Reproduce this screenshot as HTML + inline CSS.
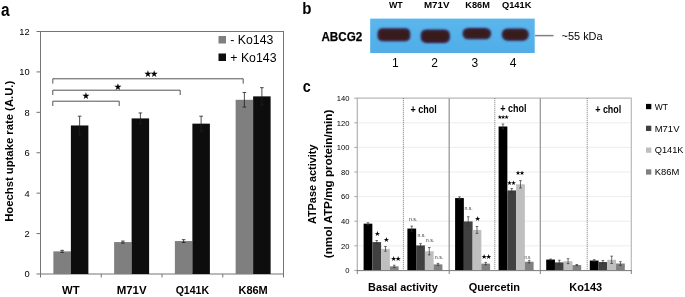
<!DOCTYPE html>
<html><head><meta charset="utf-8"><title>Figure</title>
<style>
html,body{margin:0;padding:0;background:#fff;}
svg{display:block;font-family:"Liberation Sans", sans-serif;}
</style></head>
<body>
<svg width="685" height="297" viewBox="0 0 685 297">
<rect x="0" y="0" width="685" height="297" fill="#ffffff"/>
<rect x="40.5" y="31.5" width="243.0" height="242.5" fill="none" stroke="#747474" stroke-width="1"/>
<line x1="36.5" y1="274.0" x2="40.5" y2="274.0" stroke="#747474" stroke-width="1"/>
<text x="29.7" y="277.4" font-size="9.9" text-anchor="end" fill="#000" textLength="5.2" lengthAdjust="spacingAndGlyphs">0</text>
<line x1="36.5" y1="233.58333333333334" x2="40.5" y2="233.58333333333334" stroke="#747474" stroke-width="1"/>
<text x="29.7" y="236.98333333333335" font-size="9.9" text-anchor="end" fill="#000" textLength="5.2" lengthAdjust="spacingAndGlyphs">2</text>
<line x1="36.5" y1="193.16666666666669" x2="40.5" y2="193.16666666666669" stroke="#747474" stroke-width="1"/>
<text x="29.7" y="196.5666666666667" font-size="9.9" text-anchor="end" fill="#000" textLength="5.2" lengthAdjust="spacingAndGlyphs">4</text>
<line x1="36.5" y1="152.75" x2="40.5" y2="152.75" stroke="#747474" stroke-width="1"/>
<text x="29.7" y="156.15" font-size="9.9" text-anchor="end" fill="#000" textLength="5.2" lengthAdjust="spacingAndGlyphs">6</text>
<line x1="36.5" y1="112.33333333333334" x2="40.5" y2="112.33333333333334" stroke="#747474" stroke-width="1"/>
<text x="29.7" y="115.73333333333335" font-size="9.9" text-anchor="end" fill="#000" textLength="5.2" lengthAdjust="spacingAndGlyphs">8</text>
<line x1="36.5" y1="71.91666666666666" x2="40.5" y2="71.91666666666666" stroke="#747474" stroke-width="1"/>
<text x="29.7" y="75.31666666666666" font-size="9.9" text-anchor="end" fill="#000" textLength="10.4" lengthAdjust="spacingAndGlyphs">10</text>
<line x1="36.5" y1="31.5" x2="40.5" y2="31.5" stroke="#747474" stroke-width="1"/>
<text x="29.7" y="34.9" font-size="9.9" text-anchor="end" fill="#000" textLength="10.4" lengthAdjust="spacingAndGlyphs">12</text>
<line x1="40.5" y1="274.0" x2="40.5" y2="277.5" stroke="#747474" stroke-width="1"/>
<line x1="101.25" y1="274.0" x2="101.25" y2="277.5" stroke="#747474" stroke-width="1"/>
<line x1="162.0" y1="274.0" x2="162.0" y2="277.5" stroke="#747474" stroke-width="1"/>
<line x1="222.75" y1="274.0" x2="222.75" y2="277.5" stroke="#747474" stroke-width="1"/>
<line x1="283.5" y1="274.0" x2="283.5" y2="277.5" stroke="#747474" stroke-width="1"/>
<rect x="53.38" y="251.37" width="17.50" height="22.63" fill="#7f7f7f"/>
<rect x="70.88" y="125.47" width="17.50" height="148.53" fill="#0d0d0d"/>
<line x1="62.125" y1="250.35625" x2="62.125" y2="252.37708333333333" stroke="#1f1f1f" stroke-width="0.8"/>
<line x1="60.325" y1="250.35625" x2="63.925" y2="250.35625" stroke="#1f1f1f" stroke-width="0.8"/>
<line x1="60.325" y1="252.37708333333333" x2="63.925" y2="252.37708333333333" stroke="#1f1f1f" stroke-width="0.8"/>
<line x1="79.625" y1="116.17291666666668" x2="79.625" y2="134.76458333333335" stroke="#1f1f1f" stroke-width="0.8"/>
<line x1="77.825" y1="116.17291666666668" x2="81.425" y2="116.17291666666668" stroke="#1f1f1f" stroke-width="0.8"/>
<line x1="77.825" y1="134.76458333333335" x2="81.425" y2="134.76458333333335" stroke="#1f1f1f" stroke-width="0.8"/>
<text x="70.875" y="294.4" font-size="11.5" font-weight="bold" text-anchor="middle" fill="#000" textLength="17.6" lengthAdjust="spacingAndGlyphs">WT</text>
<rect x="114.12" y="242.07" width="17.50" height="31.93" fill="#7f7f7f"/>
<rect x="131.62" y="118.40" width="17.50" height="155.60" fill="#0d0d0d"/>
<line x1="122.875" y1="241.06041666666667" x2="122.875" y2="243.08125" stroke="#1f1f1f" stroke-width="0.8"/>
<line x1="121.075" y1="241.06041666666667" x2="124.675" y2="241.06041666666667" stroke="#1f1f1f" stroke-width="0.8"/>
<line x1="121.075" y1="243.08125" x2="124.675" y2="243.08125" stroke="#1f1f1f" stroke-width="0.8"/>
<line x1="140.375" y1="112.93958333333333" x2="140.375" y2="123.85208333333335" stroke="#1f1f1f" stroke-width="0.8"/>
<line x1="138.575" y1="112.93958333333333" x2="142.175" y2="112.93958333333333" stroke="#1f1f1f" stroke-width="0.8"/>
<line x1="138.575" y1="123.85208333333335" x2="142.175" y2="123.85208333333335" stroke="#1f1f1f" stroke-width="0.8"/>
<text x="131.625" y="294.4" font-size="11.5" font-weight="bold" text-anchor="middle" fill="#000" textLength="30" lengthAdjust="spacingAndGlyphs">M71V</text>
<rect x="174.88" y="241.06" width="17.50" height="32.94" fill="#7f7f7f"/>
<rect x="192.38" y="123.65" width="17.50" height="150.35" fill="#0d0d0d"/>
<line x1="183.625" y1="239.64583333333334" x2="183.625" y2="242.475" stroke="#1f1f1f" stroke-width="0.8"/>
<line x1="181.825" y1="239.64583333333334" x2="185.425" y2="239.64583333333334" stroke="#1f1f1f" stroke-width="0.8"/>
<line x1="181.825" y1="242.475" x2="185.425" y2="242.475" stroke="#1f1f1f" stroke-width="0.8"/>
<line x1="201.125" y1="116.17291666666665" x2="201.125" y2="131.12708333333333" stroke="#1f1f1f" stroke-width="0.8"/>
<line x1="199.325" y1="116.17291666666665" x2="202.925" y2="116.17291666666665" stroke="#1f1f1f" stroke-width="0.8"/>
<line x1="199.325" y1="131.12708333333333" x2="202.925" y2="131.12708333333333" stroke="#1f1f1f" stroke-width="0.8"/>
<text x="192.375" y="294.4" font-size="11.5" font-weight="bold" text-anchor="middle" fill="#000" textLength="33.5" lengthAdjust="spacingAndGlyphs">Q141K</text>
<rect x="235.62" y="99.80" width="17.50" height="174.20" fill="#7f7f7f"/>
<rect x="253.12" y="96.37" width="17.50" height="177.63" fill="#0d0d0d"/>
<line x1="244.375" y1="92.5291666666667" x2="244.375" y2="107.07916666666668" stroke="#1f1f1f" stroke-width="0.8"/>
<line x1="242.575" y1="92.5291666666667" x2="246.175" y2="92.5291666666667" stroke="#1f1f1f" stroke-width="0.8"/>
<line x1="242.575" y1="107.07916666666668" x2="246.175" y2="107.07916666666668" stroke="#1f1f1f" stroke-width="0.8"/>
<line x1="261.875" y1="87.67916666666667" x2="261.875" y2="105.05833333333334" stroke="#1f1f1f" stroke-width="0.8"/>
<line x1="260.075" y1="87.67916666666667" x2="263.675" y2="87.67916666666667" stroke="#1f1f1f" stroke-width="0.8"/>
<line x1="260.075" y1="105.05833333333334" x2="263.675" y2="105.05833333333334" stroke="#1f1f1f" stroke-width="0.8"/>
<text x="253.125" y="294.4" font-size="11.5" font-weight="bold" text-anchor="middle" fill="#000" textLength="29.3" lengthAdjust="spacingAndGlyphs">K86M</text>
<path d="M52.8 83.6V78.8H243.2V83.6" fill="none" stroke="#404040" stroke-width="0.9"/>
<path d="M52.8 95.0V90.2H180.2V95.0" fill="none" stroke="#404040" stroke-width="0.9"/>
<path d="M52.8 106.0V101.2H119.2V106.0" fill="none" stroke="#404040" stroke-width="0.9"/>
<text x="147.8" y="76.8" font-size="9.3" text-anchor="middle" fill="#000" font-family='"DejaVu Sans", sans-serif'>★</text>
<text x="154.2" y="76.8" font-size="9.3" text-anchor="middle" fill="#000" font-family='"DejaVu Sans", sans-serif'>★</text>
<text x="118.0" y="89.7" font-size="9.3" text-anchor="middle" fill="#000" font-family='"DejaVu Sans", sans-serif'>★</text>
<text x="85.8" y="99.2" font-size="9.3" text-anchor="middle" fill="#000" font-family='"DejaVu Sans", sans-serif'>★</text>
<rect x="218.50" y="36.00" width="7.50" height="7.50" fill="#7f7f7f"/>
<rect x="218.50" y="53.50" width="7.50" height="7.50" fill="#0d0d0d"/>
<text x="230.3" y="44.4" font-size="12.6" text-anchor="start" fill="#000" textLength="43" lengthAdjust="spacingAndGlyphs">- Ko143</text>
<text x="230.3" y="61.9" font-size="12.6" text-anchor="start" fill="#000" textLength="46.2" lengthAdjust="spacingAndGlyphs">+ Ko143</text>
<text transform="translate(13,151.3) rotate(-90)" font-size="11.3" font-weight="bold" text-anchor="middle" textLength="141" lengthAdjust="spacingAndGlyphs">Hoechst uptake rate (A.U.)</text>
<text x="1.1" y="16.4" font-size="17.6" font-weight="bold" text-anchor="start" fill="#000" textLength="8.6" lengthAdjust="spacingAndGlyphs">a</text>
<text x="302.2" y="14.2" font-size="17" font-weight="bold" text-anchor="start" fill="#000" textLength="9.2" lengthAdjust="spacingAndGlyphs">b</text>
<text x="302.8" y="92" font-size="16.8" font-weight="bold" text-anchor="start" fill="#000" textLength="8.0" lengthAdjust="spacingAndGlyphs">c</text>
<text x="321.4" y="40.6" font-size="13.6" font-weight="bold" text-anchor="start" fill="#000" textLength="40.8" lengthAdjust="spacingAndGlyphs" stroke="#000" stroke-width="0.25">ABCG2</text>
<defs><linearGradient id="bg" x1="0" y1="0" x2="0" y2="1"><stop offset="0" stop-color="#5bb6ec"/><stop offset="1" stop-color="#50ade7"/></linearGradient><filter id="bl" x="-20%" y="-40%" width="140%" height="180%"><feGaussianBlur stdDeviation="1.3"/></filter><filter id="bl2" x="-20%" y="-40%" width="140%" height="180%"><feGaussianBlur stdDeviation="0.9"/></filter></defs>
<rect x="370.20" y="18.60" width="164.50" height="34.40" fill="url(#bg)"/>
<rect x="377.5" y="28.3" width="32.80" height="13.00" rx="5.0" fill="#3b2b55" filter="url(#bl)"/>
<rect x="379.0" y="29.8" width="29.80" height="10.00" rx="3.5" fill="#381a1d" filter="url(#bl2)" />
<rect x="420.7" y="29.4" width="29.20" height="13.50" rx="5.5" fill="#3b2b55" filter="url(#bl)"/>
<rect x="422.2" y="30.9" width="26.20" height="10.50" rx="4" fill="#381a1d" filter="url(#bl2)" />
<rect x="462.5" y="27.9" width="28.60" height="11.40" rx="5.7" fill="#3b2b55" filter="url(#bl)"/>
<rect x="464" y="29.4" width="25.60" height="8.40" rx="4.2" fill="#381a1d" filter="url(#bl2)" />
<rect x="501.7" y="28.4" width="27.10" height="12.40" rx="6.0" fill="#3b2b55" filter="url(#bl)"/>
<rect x="503.2" y="29.9" width="24.10" height="9.40" rx="4.5" fill="#381a1d" filter="url(#bl2)" />
<text x="388.9" y="8.3" font-size="9.7" font-weight="bold" text-anchor="start" fill="#000" textLength="13.8" lengthAdjust="spacingAndGlyphs">WT</text>
<text x="423.9" y="8.3" font-size="9.7" font-weight="bold" text-anchor="start" fill="#000" textLength="25.5" lengthAdjust="spacingAndGlyphs">M71V</text>
<text x="465.3" y="8.3" font-size="9.7" font-weight="bold" text-anchor="start" fill="#000" textLength="24.5" lengthAdjust="spacingAndGlyphs">K86M</text>
<text x="502" y="8.3" font-size="9.7" font-weight="bold" text-anchor="start" fill="#000" textLength="29.4" lengthAdjust="spacingAndGlyphs">Q141K</text>
<text x="395.3" y="67.2" font-size="12" text-anchor="middle" fill="#000">1</text>
<text x="434.7" y="67.2" font-size="12" text-anchor="middle" fill="#000">2</text>
<text x="474.8" y="67.2" font-size="12" text-anchor="middle" fill="#000">3</text>
<text x="513.2" y="67.2" font-size="12" text-anchor="middle" fill="#000">4</text>
<line x1="535" y1="35.6" x2="553.5" y2="35.6" stroke="#808080" stroke-width="1.5"/>
<text x="561.6" y="40" font-size="11.6" text-anchor="start" fill="#000" textLength="41" lengthAdjust="spacingAndGlyphs">~55 kDa</text>
<line x1="357.3" y1="245.79999999999998" x2="631.3" y2="245.79999999999998" stroke="#e9e9e9" stroke-width="0.8"/>
<line x1="357.3" y1="221.2" x2="631.3" y2="221.2" stroke="#e9e9e9" stroke-width="0.8"/>
<line x1="357.3" y1="196.59999999999997" x2="631.3" y2="196.59999999999997" stroke="#e9e9e9" stroke-width="0.8"/>
<line x1="357.3" y1="171.99999999999997" x2="631.3" y2="171.99999999999997" stroke="#e9e9e9" stroke-width="0.8"/>
<line x1="357.3" y1="147.39999999999998" x2="631.3" y2="147.39999999999998" stroke="#e9e9e9" stroke-width="0.8"/>
<line x1="357.3" y1="122.79999999999998" x2="631.3" y2="122.79999999999998" stroke="#e9e9e9" stroke-width="0.8"/>
<line x1="356.7" y1="98.2" x2="631.9" y2="98.2" stroke="#b8b8b8" stroke-width="1.3"/>
<line x1="357.3" y1="98.2" x2="357.3" y2="270.4" stroke="#b0b0b0" stroke-width="1.2"/>
<line x1="631.3" y1="98.2" x2="631.3" y2="270.4" stroke="#b8b8b8" stroke-width="1.2"/>
<line x1="449.2" y1="98.2" x2="449.2" y2="270.4" stroke="#999999" stroke-width="1.3"/>
<line x1="449.2" y1="270.4" x2="449.2" y2="274.0" stroke="#808080" stroke-width="1"/>
<line x1="540.3" y1="98.2" x2="540.3" y2="270.4" stroke="#999999" stroke-width="1.3"/>
<line x1="540.3" y1="270.4" x2="540.3" y2="274.0" stroke="#808080" stroke-width="1"/>
<line x1="357.3" y1="270.4" x2="357.3" y2="274.0" stroke="#808080" stroke-width="1"/>
<line x1="631.3" y1="270.4" x2="631.3" y2="274.0" stroke="#808080" stroke-width="1"/>
<line x1="403.4" y1="98.2" x2="403.4" y2="270.4" stroke="#404040" stroke-width="0.7" stroke-dasharray="1 1"/>
<line x1="494.8" y1="98.2" x2="494.8" y2="270.4" stroke="#404040" stroke-width="0.7" stroke-dasharray="1 1"/>
<line x1="587.2" y1="98.2" x2="587.2" y2="270.4" stroke="#404040" stroke-width="0.7" stroke-dasharray="1 1"/>
<line x1="354.3" y1="270.4" x2="357.3" y2="270.4" stroke="#a6a6a6" stroke-width="1"/>
<text x="349.5" y="273.09999999999997" font-size="7.6" text-anchor="end" fill="#000">0</text>
<line x1="354.3" y1="245.79999999999998" x2="357.3" y2="245.79999999999998" stroke="#a6a6a6" stroke-width="1"/>
<text x="349.5" y="248.49999999999997" font-size="7.6" text-anchor="end" fill="#000">20</text>
<line x1="354.3" y1="221.2" x2="357.3" y2="221.2" stroke="#a6a6a6" stroke-width="1"/>
<text x="349.5" y="223.89999999999998" font-size="7.6" text-anchor="end" fill="#000">40</text>
<line x1="354.3" y1="196.59999999999997" x2="357.3" y2="196.59999999999997" stroke="#a6a6a6" stroke-width="1"/>
<text x="349.5" y="199.29999999999995" font-size="7.6" text-anchor="end" fill="#000">60</text>
<line x1="354.3" y1="171.99999999999997" x2="357.3" y2="171.99999999999997" stroke="#a6a6a6" stroke-width="1"/>
<text x="349.5" y="174.69999999999996" font-size="7.6" text-anchor="end" fill="#000">80</text>
<line x1="354.3" y1="147.39999999999998" x2="357.3" y2="147.39999999999998" stroke="#a6a6a6" stroke-width="1"/>
<text x="349.5" y="150.09999999999997" font-size="7.6" text-anchor="end" fill="#000">100</text>
<line x1="354.3" y1="122.79999999999998" x2="357.3" y2="122.79999999999998" stroke="#a6a6a6" stroke-width="1"/>
<text x="349.5" y="125.49999999999999" font-size="7.6" text-anchor="end" fill="#000">120</text>
<line x1="354.3" y1="98.19999999999999" x2="357.3" y2="98.19999999999999" stroke="#a6a6a6" stroke-width="1"/>
<text x="349.5" y="100.89999999999999" font-size="7.6" text-anchor="end" fill="#000">140</text>
<rect x="363.60" y="223.66" width="8.75" height="46.74" fill="#000000"/>
<line x1="367.975" y1="222.676" x2="367.975" y2="224.64399999999998" stroke="#333333" stroke-width="0.7"/>
<line x1="366.675" y1="222.676" x2="369.27500000000003" y2="222.676" stroke="#333333" stroke-width="0.7"/>
<line x1="366.675" y1="224.64399999999998" x2="369.27500000000003" y2="224.64399999999998" stroke="#333333" stroke-width="0.7"/>
<rect x="372.35" y="242.11" width="8.75" height="28.29" fill="#404040"/>
<line x1="376.725" y1="240.51099999999997" x2="376.725" y2="243.70899999999997" stroke="#333333" stroke-width="0.7"/>
<line x1="375.425" y1="240.51099999999997" x2="378.02500000000003" y2="240.51099999999997" stroke="#333333" stroke-width="0.7"/>
<line x1="375.425" y1="243.70899999999997" x2="378.02500000000003" y2="243.70899999999997" stroke="#333333" stroke-width="0.7"/>
<rect x="381.10" y="248.87" width="8.75" height="21.53" fill="#bfbfbf"/>
<line x1="385.475" y1="246.53799999999998" x2="385.475" y2="251.212" stroke="#333333" stroke-width="0.7"/>
<line x1="384.175" y1="246.53799999999998" x2="386.77500000000003" y2="246.53799999999998" stroke="#333333" stroke-width="0.7"/>
<line x1="384.175" y1="251.212" x2="386.77500000000003" y2="251.212" stroke="#333333" stroke-width="0.7"/>
<rect x="389.85" y="266.34" width="8.75" height="4.06" fill="#808080"/>
<line x1="394.225" y1="265.234" x2="394.225" y2="267.448" stroke="#333333" stroke-width="0.7"/>
<line x1="392.925" y1="265.234" x2="395.52500000000003" y2="265.234" stroke="#333333" stroke-width="0.7"/>
<line x1="392.925" y1="267.448" x2="395.52500000000003" y2="267.448" stroke="#333333" stroke-width="0.7"/>
<rect x="407.40" y="228.58" width="8.75" height="41.82" fill="#000000"/>
<line x1="411.775" y1="226.11999999999998" x2="411.775" y2="231.03999999999996" stroke="#333333" stroke-width="0.7"/>
<line x1="410.47499999999997" y1="226.11999999999998" x2="413.075" y2="226.11999999999998" stroke="#333333" stroke-width="0.7"/>
<line x1="410.47499999999997" y1="231.03999999999996" x2="413.075" y2="231.03999999999996" stroke="#333333" stroke-width="0.7"/>
<rect x="416.15" y="245.43" width="8.75" height="24.97" fill="#404040"/>
<line x1="420.525" y1="243.58599999999998" x2="420.525" y2="247.27599999999998" stroke="#333333" stroke-width="0.7"/>
<line x1="419.22499999999997" y1="243.58599999999998" x2="421.825" y2="243.58599999999998" stroke="#333333" stroke-width="0.7"/>
<line x1="419.22499999999997" y1="247.27599999999998" x2="421.825" y2="247.27599999999998" stroke="#333333" stroke-width="0.7"/>
<rect x="424.90" y="251.21" width="8.75" height="19.19" fill="#bfbfbf"/>
<line x1="429.275" y1="247.522" x2="429.275" y2="254.902" stroke="#333333" stroke-width="0.7"/>
<line x1="427.97499999999997" y1="247.522" x2="430.575" y2="247.522" stroke="#333333" stroke-width="0.7"/>
<line x1="427.97499999999997" y1="254.902" x2="430.575" y2="254.902" stroke="#333333" stroke-width="0.7"/>
<rect x="433.65" y="264.37" width="8.75" height="6.03" fill="#808080"/>
<line x1="438.025" y1="263.38899999999995" x2="438.025" y2="265.35699999999997" stroke="#333333" stroke-width="0.7"/>
<line x1="436.72499999999997" y1="263.38899999999995" x2="439.325" y2="263.38899999999995" stroke="#333333" stroke-width="0.7"/>
<line x1="436.72499999999997" y1="265.35699999999997" x2="439.325" y2="265.35699999999997" stroke="#333333" stroke-width="0.7"/>
<rect x="455.10" y="198.08" width="8.75" height="72.32" fill="#000000"/>
<line x1="459.475" y1="196.84599999999998" x2="459.475" y2="199.30599999999998" stroke="#333333" stroke-width="0.7"/>
<line x1="458.175" y1="196.84599999999998" x2="460.77500000000003" y2="196.84599999999998" stroke="#333333" stroke-width="0.7"/>
<line x1="458.175" y1="199.30599999999998" x2="460.77500000000003" y2="199.30599999999998" stroke="#333333" stroke-width="0.7"/>
<rect x="463.85" y="221.45" width="8.75" height="48.95" fill="#404040"/>
<line x1="468.225" y1="216.772" x2="468.225" y2="226.11999999999998" stroke="#333333" stroke-width="0.7"/>
<line x1="466.925" y1="216.772" x2="469.52500000000003" y2="216.772" stroke="#333333" stroke-width="0.7"/>
<line x1="466.925" y1="226.11999999999998" x2="469.52500000000003" y2="226.11999999999998" stroke="#333333" stroke-width="0.7"/>
<rect x="472.60" y="229.93" width="8.75" height="40.47" fill="#bfbfbf"/>
<line x1="476.975" y1="226.48899999999998" x2="476.975" y2="233.37699999999998" stroke="#333333" stroke-width="0.7"/>
<line x1="475.675" y1="226.48899999999998" x2="478.27500000000003" y2="226.48899999999998" stroke="#333333" stroke-width="0.7"/>
<line x1="475.675" y1="233.37699999999998" x2="478.27500000000003" y2="233.37699999999998" stroke="#333333" stroke-width="0.7"/>
<rect x="481.35" y="263.63" width="8.75" height="6.76" fill="#808080"/>
<line x1="485.725" y1="262.405" x2="485.725" y2="264.86499999999995" stroke="#333333" stroke-width="0.7"/>
<line x1="484.425" y1="262.405" x2="487.02500000000003" y2="262.405" stroke="#333333" stroke-width="0.7"/>
<line x1="484.425" y1="264.86499999999995" x2="487.02500000000003" y2="264.86499999999995" stroke="#333333" stroke-width="0.7"/>
<rect x="498.60" y="126.49" width="8.75" height="143.91" fill="#000000"/>
<line x1="502.975" y1="124.02999999999997" x2="502.975" y2="128.95" stroke="#333333" stroke-width="0.7"/>
<line x1="501.675" y1="124.02999999999997" x2="504.27500000000003" y2="124.02999999999997" stroke="#333333" stroke-width="0.7"/>
<line x1="501.675" y1="128.95" x2="504.27500000000003" y2="128.95" stroke="#333333" stroke-width="0.7"/>
<rect x="507.35" y="190.45" width="8.75" height="79.95" fill="#404040"/>
<line x1="511.725" y1="188.60499999999996" x2="511.725" y2="192.295" stroke="#333333" stroke-width="0.7"/>
<line x1="510.425" y1="188.60499999999996" x2="513.025" y2="188.60499999999996" stroke="#333333" stroke-width="0.7"/>
<line x1="510.425" y1="192.295" x2="513.025" y2="192.295" stroke="#333333" stroke-width="0.7"/>
<rect x="516.10" y="184.30" width="8.75" height="86.10" fill="#bfbfbf"/>
<line x1="520.475" y1="180.60999999999999" x2="520.475" y2="187.98999999999998" stroke="#333333" stroke-width="0.7"/>
<line x1="519.1750000000001" y1="180.60999999999999" x2="521.775" y2="180.60999999999999" stroke="#333333" stroke-width="0.7"/>
<line x1="519.1750000000001" y1="187.98999999999998" x2="521.775" y2="187.98999999999998" stroke="#333333" stroke-width="0.7"/>
<rect x="524.85" y="261.79" width="8.75" height="8.61" fill="#808080"/>
<line x1="529.225" y1="260.683" x2="529.225" y2="262.897" stroke="#333333" stroke-width="0.7"/>
<line x1="527.9250000000001" y1="260.683" x2="530.525" y2="260.683" stroke="#333333" stroke-width="0.7"/>
<line x1="527.9250000000001" y1="262.897" x2="530.525" y2="262.897" stroke="#333333" stroke-width="0.7"/>
<rect x="546.20" y="259.58" width="8.75" height="10.82" fill="#000000"/>
<line x1="550.575" y1="259.084" x2="550.575" y2="260.068" stroke="#333333" stroke-width="0.7"/>
<line x1="549.2750000000001" y1="259.084" x2="551.875" y2="259.084" stroke="#333333" stroke-width="0.7"/>
<line x1="549.2750000000001" y1="260.068" x2="551.875" y2="260.068" stroke="#333333" stroke-width="0.7"/>
<rect x="554.95" y="262.40" width="8.75" height="8.00" fill="#404040"/>
<line x1="559.325" y1="260.191" x2="559.325" y2="264.61899999999997" stroke="#333333" stroke-width="0.7"/>
<line x1="558.0250000000001" y1="260.191" x2="560.625" y2="260.191" stroke="#333333" stroke-width="0.7"/>
<line x1="558.0250000000001" y1="264.61899999999997" x2="560.625" y2="264.61899999999997" stroke="#333333" stroke-width="0.7"/>
<rect x="563.70" y="261.17" width="8.75" height="9.23" fill="#bfbfbf"/>
<line x1="568.075" y1="258.715" x2="568.075" y2="263.635" stroke="#333333" stroke-width="0.7"/>
<line x1="566.7750000000001" y1="258.715" x2="569.375" y2="258.715" stroke="#333333" stroke-width="0.7"/>
<line x1="566.7750000000001" y1="263.635" x2="569.375" y2="263.635" stroke="#333333" stroke-width="0.7"/>
<rect x="572.45" y="265.11" width="8.75" height="5.29" fill="#808080"/>
<line x1="576.825" y1="264.496" x2="576.825" y2="265.726" stroke="#333333" stroke-width="0.7"/>
<line x1="575.5250000000001" y1="264.496" x2="578.125" y2="264.496" stroke="#333333" stroke-width="0.7"/>
<line x1="575.5250000000001" y1="265.726" x2="578.125" y2="265.726" stroke="#333333" stroke-width="0.7"/>
<rect x="589.80" y="260.56" width="8.75" height="9.84" fill="#000000"/>
<line x1="594.175" y1="259.69899999999996" x2="594.175" y2="261.421" stroke="#333333" stroke-width="0.7"/>
<line x1="592.875" y1="259.69899999999996" x2="595.4749999999999" y2="259.69899999999996" stroke="#333333" stroke-width="0.7"/>
<line x1="592.875" y1="261.421" x2="595.4749999999999" y2="261.421" stroke="#333333" stroke-width="0.7"/>
<rect x="598.55" y="262.04" width="8.75" height="8.36" fill="#404040"/>
<line x1="602.925" y1="260.56" x2="602.925" y2="263.512" stroke="#333333" stroke-width="0.7"/>
<line x1="601.625" y1="260.56" x2="604.2249999999999" y2="260.56" stroke="#333333" stroke-width="0.7"/>
<line x1="601.625" y1="263.512" x2="604.2249999999999" y2="263.512" stroke="#333333" stroke-width="0.7"/>
<rect x="607.30" y="259.82" width="8.75" height="10.58" fill="#bfbfbf"/>
<line x1="611.675" y1="256.132" x2="611.675" y2="263.512" stroke="#333333" stroke-width="0.7"/>
<line x1="610.375" y1="256.132" x2="612.9749999999999" y2="256.132" stroke="#333333" stroke-width="0.7"/>
<line x1="610.375" y1="263.512" x2="612.9749999999999" y2="263.512" stroke="#333333" stroke-width="0.7"/>
<rect x="616.05" y="263.51" width="8.75" height="6.89" fill="#808080"/>
<line x1="620.425" y1="261.667" x2="620.425" y2="265.35699999999997" stroke="#333333" stroke-width="0.7"/>
<line x1="619.125" y1="261.667" x2="621.7249999999999" y2="261.667" stroke="#333333" stroke-width="0.7"/>
<line x1="619.125" y1="265.35699999999997" x2="621.7249999999999" y2="265.35699999999997" stroke="#333333" stroke-width="0.7"/>
<text x="377.4" y="235.6" font-size="7.0" text-anchor="middle" fill="#000" font-family='"DejaVu Sans", sans-serif'>★</text>
<text x="386.3" y="242.4" font-size="7.0" text-anchor="middle" fill="#000" font-family='"DejaVu Sans", sans-serif'>★</text>
<text x="393.75" y="261" font-size="7.0" text-anchor="middle" fill="#000" font-family='"DejaVu Sans", sans-serif'>★</text>
<text x="398.25" y="261" font-size="7.0" text-anchor="middle" fill="#000" font-family='"DejaVu Sans", sans-serif'>★</text>
<text x="408.9" y="221" font-size="5.5" text-anchor="start" fill="#404040" textLength="8.6" lengthAdjust="spacingAndGlyphs">n.s.</text>
<text x="417.5" y="236.9" font-size="5.5" text-anchor="start" fill="#404040" textLength="8.3" lengthAdjust="spacingAndGlyphs">n.s.</text>
<text x="425.8" y="242.3" font-size="5.5" text-anchor="start" fill="#404040" textLength="8.6" lengthAdjust="spacingAndGlyphs">n.s.</text>
<text x="434.8" y="258.7" font-size="5.5" text-anchor="start" fill="#404040" textLength="8.6" lengthAdjust="spacingAndGlyphs">n.s.</text>
<text x="464.4" y="210.4" font-size="5.5" text-anchor="start" fill="#404040" textLength="8.4" lengthAdjust="spacingAndGlyphs">n.s.</text>
<text x="477.6" y="221" font-size="7.0" text-anchor="middle" fill="#000" font-family='"DejaVu Sans", sans-serif'>★</text>
<text x="484.25" y="259.4" font-size="7.0" text-anchor="middle" fill="#000" font-family='"DejaVu Sans", sans-serif'>★</text>
<text x="488.75" y="259.4" font-size="7.0" text-anchor="middle" fill="#000" font-family='"DejaVu Sans", sans-serif'>★</text>
<text x="499.9" y="119.4" font-size="5.8" text-anchor="middle" fill="#000" font-family='"DejaVu Sans", sans-serif'>★</text>
<text x="503.2" y="119.4" font-size="5.8" text-anchor="middle" fill="#000" font-family='"DejaVu Sans", sans-serif'>★</text>
<text x="506.5" y="119.4" font-size="5.8" text-anchor="middle" fill="#000" font-family='"DejaVu Sans", sans-serif'>★</text>
<text x="509.6" y="184.8" font-size="6.2" text-anchor="middle" fill="#000" font-family='"DejaVu Sans", sans-serif'>★</text>
<text x="513.6" y="184.8" font-size="6.2" text-anchor="middle" fill="#000" font-family='"DejaVu Sans", sans-serif'>★</text>
<text x="518.0" y="174.6" font-size="6.2" text-anchor="middle" fill="#000" font-family='"DejaVu Sans", sans-serif'>★</text>
<text x="522.0" y="174.6" font-size="6.2" text-anchor="middle" fill="#000" font-family='"DejaVu Sans", sans-serif'>★</text>
<text x="524.4" y="258.8" font-size="4.8" text-anchor="start" fill="#404040" textLength="7.0" lengthAdjust="spacingAndGlyphs">n.s.</text>
<line x1="356.8" y1="270.59999999999997" x2="631.8" y2="270.59999999999997" stroke="#7a7a7a" stroke-width="1"/>
<text x="410.6" y="113.0" font-size="10" font-weight="bold" text-anchor="start" fill="#000" textLength="26.1" lengthAdjust="spacingAndGlyphs">+ chol</text>
<text x="500.3" y="112.1" font-size="10" font-weight="bold" text-anchor="start" fill="#000" textLength="26.1" lengthAdjust="spacingAndGlyphs">+ chol</text>
<text x="595.2" y="113.4" font-size="10" font-weight="bold" text-anchor="start" fill="#000" textLength="26.1" lengthAdjust="spacingAndGlyphs">+ chol</text>
<text x="368.1" y="290.8" font-size="11.6" font-weight="bold" text-anchor="start" fill="#000" textLength="69.6" lengthAdjust="spacingAndGlyphs">Basal activity</text>
<text x="468.7" y="290.8" font-size="11.6" font-weight="bold" text-anchor="start" fill="#000" textLength="51.3" lengthAdjust="spacingAndGlyphs">Quercetin</text>
<text x="569.3" y="290.8" font-size="11.6" font-weight="bold" text-anchor="start" fill="#000" textLength="32.8" lengthAdjust="spacingAndGlyphs">Ko143</text>
<rect x="646.00" y="103.90" width="5.30" height="5.30" fill="#000000"/>
<text x="654.7" y="109.8" font-size="9.5" text-anchor="start" fill="#000" textLength="13.2" lengthAdjust="spacingAndGlyphs">WT</text>
<rect x="646.00" y="125.70" width="5.30" height="5.30" fill="#404040"/>
<text x="654.7" y="131.6" font-size="9.5" text-anchor="start" fill="#000" textLength="24.8" lengthAdjust="spacingAndGlyphs">M71V</text>
<rect x="646.00" y="147.50" width="5.30" height="5.30" fill="#bfbfbf"/>
<text x="654.7" y="153.4" font-size="9.5" text-anchor="start" fill="#000" textLength="28.8" lengthAdjust="spacingAndGlyphs">Q141K</text>
<rect x="646.00" y="169.30" width="5.30" height="5.30" fill="#808080"/>
<text x="654.7" y="175.2" font-size="9.5" text-anchor="start" fill="#000" textLength="24.6" lengthAdjust="spacingAndGlyphs">K86M</text>
<text transform="translate(315.6,184.3) rotate(-90)" font-size="10.8" font-weight="bold" text-anchor="middle" textLength="79.5" lengthAdjust="spacingAndGlyphs">ATPase activity</text>
<text transform="translate(331.8,183.9) rotate(-90)" font-size="10.8" font-weight="bold" text-anchor="middle" textLength="148.5" lengthAdjust="spacingAndGlyphs">(nmol ATP/mg protein/min)</text>
</svg>
</body></html>
